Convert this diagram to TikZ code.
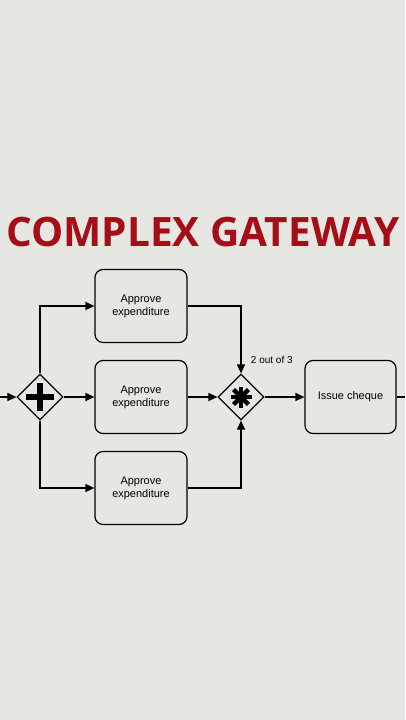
\documentclass[tikz,border=0pt]{standalone}
\usepackage{fontspec}
\setmainfont{Liberation Sans}
\newfontfamily\titlefont{Open Sans}
\usetikzlibrary{shapes.geometric,arrows.meta}
\definecolor{bg}{HTML}{E6E6E2}
\definecolor{titlered}{HTML}{A50E16}

\begin{document}
\begin{tikzpicture}[x=1pt,y=-1pt,>={Triangle[length=9pt,width=8pt]},line width=1.2pt,
  task/.style={draw,rounded corners=8pt,minimum width=92pt,minimum height=73pt,align=center,
    font=\fontsize{11}{13}\selectfont},
  gate/.style={draw,diamond,minimum width=46pt,minimum height=46pt,inner sep=0pt}]
\fill[bg] (0,0) rectangle (405,720);
\useasboundingbox (0,0) rectangle (405,720);

\node[font=\titlefont\bfseries\fontsize{40.5}{40.5}\selectfont,text=titlered] (title) at (203,232) {COMPLEX GATEWAY};

\node[gate] (fork) at (40,397) {};
\node[task] (t1) at (141,306) {Approve\\expenditure};
\node[task] (t2) at (141,397) {Approve\\expenditure};
\node[task] (t3) at (141,488) {Approve\\expenditure};
\node[gate] (join) at (241,397) {};
\node[task,minimum width=91pt] (issue) at (350.5,397) {Issue cheque};
\node[anchor=west,font=\fontsize{10}{12}\selectfont] (rule) at (247,360) {2 out of 3};
\coordinate (in) at (0,397);
\coordinate (out) at (405,397);

% parallel split marker
\fill ([xshift=-14pt,yshift=-2.8pt]fork.center) rectangle ([xshift=14pt,yshift=2.8pt]fork.center);
\fill ([xshift=-2.8pt,yshift=-14pt]fork.center) rectangle ([xshift=2.8pt,yshift=14pt]fork.center);
% complex merge marker
\foreach \a in {0,45,90,135}
  \draw[line width=4.5pt] ([shift={(\a:10.5)}]join.center) -- ([shift={(\a+180:10.5)}]join.center);

\draw[->] (in) -- (fork);
\draw[->] (fork.north) |- (t1.west);
\draw[->] (fork) -- (t2);
\draw[->] (fork.south) |- (t3.west);
\draw[->] (t1.east) -| (join.north);
\draw[->] (t2) -- (join);
\draw[->] (t3.east) -| (join.south);
\draw[->] (join) -- (issue);
\draw (issue) -- (out);
\end{tikzpicture}
\end{document}
